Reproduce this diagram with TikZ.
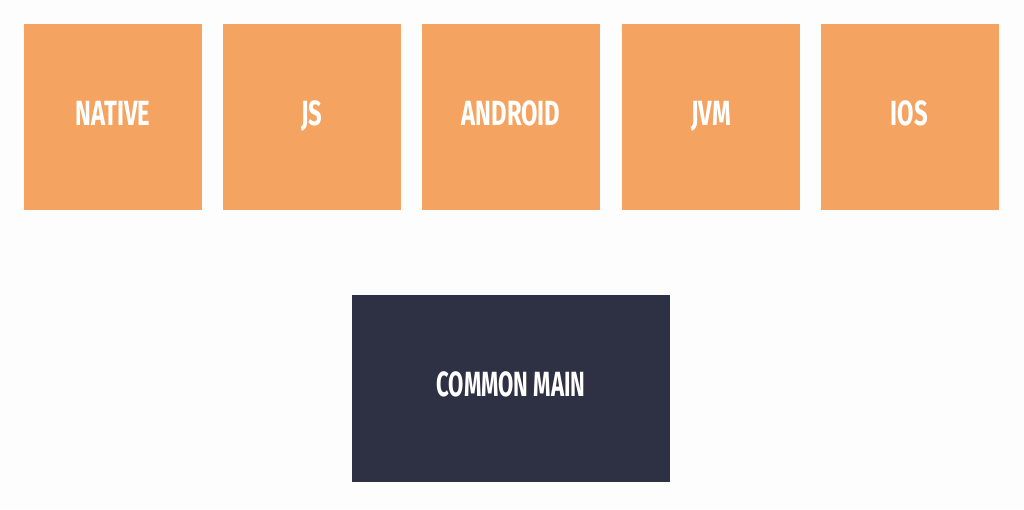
\documentclass[tikz,border=0pt]{standalone}
\usepackage{fontspec}
\newfontfamily\dinfont[FakeStretch=0.68]{Fira Sans Bold}
\definecolor{orng}{HTML}{F4A361}
\definecolor{navy}{HTML}{2E3143}
\definecolor{bg}{HTML}{FDFDFD}
\begin{document}
\begin{tikzpicture}[x=1pt,y=-1pt,
  lbl/.style={text=white,font=\dinfont\fontsize{35}{40}\selectfont,text height=25pt,text depth=9pt},
  platbox/.style={fill=orng,draw=none,minimum width=178pt,minimum height=186pt,inner sep=0pt,lbl},
  mainbox/.style={fill=navy,draw=none,minimum width=318pt,minimum height=187pt,inner sep=0pt,lbl}]
\fill[bg] (0,0) rectangle (1024,509);
\useasboundingbox (0,0) rectangle (1024,509);
\node[platbox] (native) at (113,117) {NATIVE};
\node[platbox] (js) at (312,117) {JS};
\node[platbox] (android) at (511,117) {ANDROID};
\node[platbox] (jvm) at (711,117) {JVM};
\node[platbox] (ios) at (909.5,117) {IOS};
\node[mainbox] (main) at (511,388) {\scalebox{0.93}[1]{COMMON MAIN}};
\end{tikzpicture}
\end{document}
